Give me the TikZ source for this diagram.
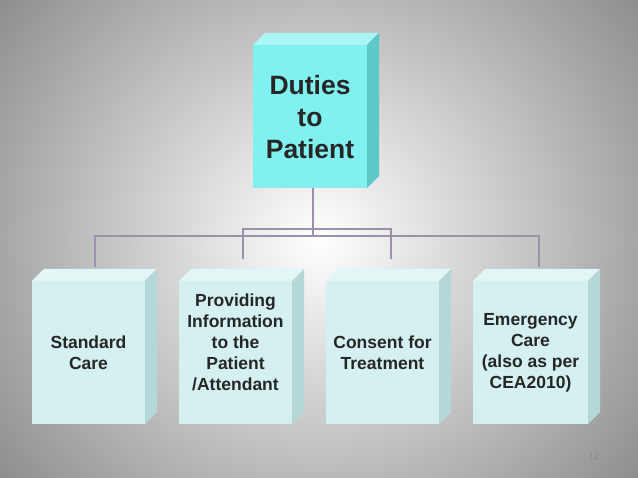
\documentclass[tikz,border=0pt]{standalone}
\usepackage{fontspec}
\setmainfont{Liberation Sans}
\begin{document}
\begin{tikzpicture}[x=1pt,y=-1pt,
  conn/.style={draw=cc, line width=2pt},
  lbl/.style={font=\bfseries\fontsize{17.5}{21}\selectfont, align=center, text=black!85}]
\definecolor{cc}{HTML}{9C90AC}
\definecolor{tf}{HTML}{80F0F0}\definecolor{tt}{HTML}{A8F6F6}\definecolor{ts}{HTML}{5CC8C8}
\definecolor{bf}{HTML}{D4F0F0}\definecolor{bt}{HTML}{E2F6F6}\definecolor{bs}{HTML}{B4D8D8}
\useasboundingbox (0,0) rectangle (638,478);
\shade[inner color=white, outer color=black!50] (-140,-200) rectangle (778,678);
\newcommand{\mybox}[6]{%
  \fill[#5] (#1,#2) rectangle (#3,#4);
  \fill[#6] (#1,#2) -- (#1+12,#2-12) -- (#3+12,#2-12) -- (#3,#2) -- cycle;
}
\newcommand{\myside}[5]{\fill[#5] (#3,#2) -- (#3+12,#2-12) -- (#3+12,#4-12) -- (#3,#4) -- cycle;}
% connectors
\draw[conn] (313,186) -- (313,236);
\draw[conn] (95,267) -- (95,236) -- (539,236) -- (539,267);
\draw[conn] (243,259) -- (243,229) -- (391,229) -- (391,259);
% top box
\mybox{253}{45}{367}{188}{tf}{tt}\myside{253}{45}{367}{188}{ts}
\node[lbl, font=\bfseries\fontsize{26.5}{32}\selectfont] (top) at (310,117) {Duties\\to\\Patient};
% bottom boxes
\mybox{32}{281}{145}{424}{bf}{bt}\myside{32}{281}{145}{424}{bs}
\mybox{179}{281}{292}{424}{bf}{bt}\myside{179}{281}{292}{424}{bs}
\mybox{326}{281}{439}{424}{bf}{bt}\myside{326}{281}{439}{424}{bs}
\mybox{473}{281}{588}{424}{bf}{bt}\myside{473}{281}{588}{424}{bs}
\node[lbl] (b1) at (88.5,353) {Standard\\Care};
\node[lbl] (b2) at (235.5,342) {Providing\\Information\\to the\\Patient\\/Attendant};
\node[lbl] (b3) at (382.5,353) {Consent for\\Treatment};
\node[lbl] (b4) at (530.5,353) {Emergency\\Care\\(also as per\\CEA2010)};
\node[text=black!45, font=\fontsize{10}{12}\selectfont] (pg) at (594,456) {12};
\end{tikzpicture}
\end{document}
